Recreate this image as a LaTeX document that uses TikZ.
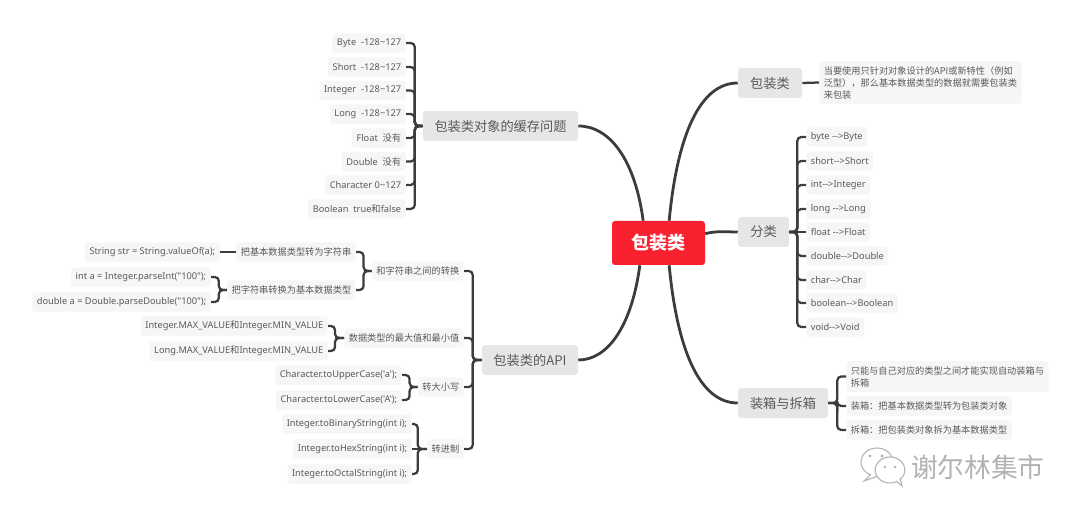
\documentclass[tikz,border=0pt]{standalone}
\usepackage{fontspec}
\setmainfont[Ligatures=TeXOff]{Noto Sans}
\newfontfamily\cjk{Noto Sans CJK SC}
\usepackage{xcolor}
\usepackage{tikz}
\usetikzlibrary{positioning}
\definecolor{rootred}{HTML}{F92130}
\definecolor{topicgray}{HTML}{E6E6E6}
\definecolor{leafgray}{HTML}{F6F6F6}
\definecolor{inkgray}{HTML}{5A5A5A}
\definecolor{linegray}{HTML}{3C3C3C}

\begin{document}
\begin{tikzpicture}[
  x=0.75pt, y=-0.75pt,
  % Node styles
  rootbox/.style={fill=rootred, rounded corners=2.2pt, minimum width=69.75pt, minimum height=33pt,
                  inner sep=0pt, text=white, font=\cjk\fontsize{13.5}{15}\selectfont\bfseries},
  topicbox/.style={fill=topicgray, rounded corners=2.2pt, minimum height=22.5pt, inner sep=0pt,
                   text=inkgray, font=\cjk\fontsize{9.9}{12}\selectfont},
  leafbox/.style={fill=leafgray, rounded corners=2.2pt, minimum height=14.6pt, inner xsep=3.4pt, inner ysep=0pt,
                  text=inkgray, font=\fontsize{6.95}{9}\selectfont},
  cjkbox/.style={leafbox, font=\cjk\fontsize{6.9}{9}\selectfont},
  % Line styles
  branch/.style={draw=linegray, line width=2.1pt},
  bracket/.style={draw=linegray, line width=1.7pt, rounded corners=3pt},
  bubble/.style={draw=gray!60, line width=0.8pt, fill=white},
  eye/.style={fill=gray!60},
]

  \useasboundingbox (0,0) rectangle (1080,516);

  % ── Root ──
  \node[rootbox] (root) at (658.5,243) {包装类};

  % ── Right topics ──
  \node[topicbox, minimum width=48pt] (wrap) at (770,83) {包装类};
  \node[topicbox, minimum width=38.25pt] (kinds) at (763.5,232) {分类};
  \node[topicbox, minimum width=67.5pt] (boxing) at (783,403) {装箱与拆箱};

  % ── Left topics ──
  \node[topicbox, minimum width=116.25pt] (cache) at (500.5,126) {包装类对象的缓存问题};
  \node[topicbox, minimum width=72pt] (api) at (530,360) {包装类的API};

  % ── Wrapper description ──
  \node[cjkbox, anchor=west, align=left, minimum width=151.5pt, minimum height=32pt] (desc) at (819,82.5)
    {当要使用只针对对象设计的API或新特性（例如\\泛型），那么基本数据类型的数据就需要包装类\\来包装};

  % ── Kinds: primitive to wrapper ──
  \node[leafbox, anchor=west] (kbyte) at (806,137) {byte -->Byte};
  \node[leafbox, anchor=west] (kshort) at (806,161) {short-->Short};
  \node[leafbox, anchor=west] (kint) at (806,185) {int-->Integer};
  \node[leafbox, anchor=west] (klong) at (806,209) {long -->Long};
  \node[leafbox, anchor=west] (kfloat) at (806,232) {float -->Float};
  \node[leafbox, anchor=west] (kdouble) at (806,256) {double-->Double};
  \node[leafbox, anchor=west] (kchar) at (806,280) {char-->Char};
  \node[leafbox, anchor=west] (kboolean) at (806,303) {boolean-->Boolean};
  \node[leafbox, anchor=west] (kvoid) at (806,327) {void-->Void};

  % ── Boxing notes ──
  \node[cjkbox, anchor=west, align=left, minimum width=150.75pt, minimum height=23pt] (bonly) at (846,376.5)
    {只能与自己对应的类型之间才能实现自动装箱与\\拆箱};
  \node[cjkbox, anchor=west] (bbox) at (846,406) {装箱：把基本数据类型转为包装类对象};
  \node[cjkbox, anchor=west] (bunbox) at (846,430) {拆箱：把包装类对象拆为基本数据类型};

  % ── Cache leaves ──
  \node[leafbox, anchor=east] (cbyte) at (406,43) {Byte\ \ -128\textasciitilde127};
  \node[leafbox, anchor=east] (cshort) at (406,67) {Short\ \ -128\textasciitilde127};
  \node[leafbox, anchor=east] (cinteger) at (406,90.5) {Integer\ \ -128\textasciitilde127};
  \node[leafbox, anchor=east] (clong) at (406,114) {Long\ \ -128\textasciitilde127};
  \node[leafbox, anchor=east] (cfloat) at (406,138) {Float\ \ {\cjk 没有}};
  \node[leafbox, anchor=east] (cdouble) at (406,161.5) {Double\ \ {\cjk 没有}};
  \node[leafbox, anchor=east] (cchar) at (406,185) {Character 0\textasciitilde127};
  \node[leafbox, anchor=east] (cboolean) at (406,209) {Boolean\ \ true{\cjk 和}false};

  % ── API groups ──
  \node[cjkbox, anchor=east] (astring) at (464,271) {和字符串之间的转换};
  \node[cjkbox, anchor=east] (arange) at (464,338) {数据类型的最大值和最小值};
  \node[cjkbox, anchor=east] (acase) at (464,387) {转大小写};
  \node[cjkbox, anchor=east] (aradix) at (464,449) {转进制};

  % ── String conversion ──
  \node[cjkbox, anchor=east] (tostr) at (356,252) {把基本数据类型转为字符串};
  \node[cjkbox, anchor=east] (fromstr) at (356,290) {把字符串转换为基本数据类型};
  \node[leafbox, anchor=east] (valueof) at (220,252) {String str = String.valueOf(a);};
  \node[leafbox, anchor=east] (parseint) at (211,277) {int a = Integer.parseInt("100");};
  \node[leafbox, anchor=east] (parsedouble) at (211,302) {double a = Double.parseDouble("100");};

  % ── Range, case, radix ──
  \node[leafbox, anchor=east] (intrange) at (328,326) {Integer.MAX\_VALUE{\cjk 和}Integer.MIN\_VALUE};
  \node[leafbox, anchor=east] (longrange) at (328,351) {Long.MAX\_VALUE{\cjk 和}Integer.MIN\_VALUE};
  \node[leafbox, anchor=east] (upper) at (402,375) {Character.toUpperCase('a');};
  \node[leafbox, anchor=east] (lower) at (402,400) {Character.toLowerCase('A');};
  \node[leafbox, anchor=east] (binary) at (412,424) {Integer.toBinaryString(int i);};
  \node[leafbox, anchor=east] (hex) at (412,449) {Integer.toHexString(int i);};
  \node[leafbox, anchor=east] (octal) at (412,474) {Integer.toOctalString(int i);};

  % ── Arrows: root to topics ──
  \draw[branch] ([xshift=8pt]root.north) .. controls +(8,-85) and +(-38,0) .. (wrap.west);
  \draw[branch] ([yshift=7pt]root.east) .. controls +(12,-3) and +(-12,0) .. (kinds.west);
  \draw[branch] ([xshift=8pt]root.south) .. controls +(8,85) and +(-38,0) .. (boxing.west);
  \draw[branch] ([xshift=-11.5pt]root.north) .. controls +(-8,-60) and +(32,0) .. (cache.east);
  \draw[branch] ([xshift=-14pt]root.south) .. controls +(-8,60) and +(30,0) .. (api.east);

  % ── Arrows: wrapper and kinds ──
  \draw[bracket] (wrap.east) -- (desc.west);
  \draw[bracket] (kinds.east) -- ++(8,0) |- (kbyte.west);
  \draw[bracket] (kinds.east) -- ++(8,0) |- (kshort.west);
  \draw[bracket] (kinds.east) -- ++(8,0) |- (kint.west);
  \draw[bracket] (kinds.east) -- ++(8,0) |- (klong.west);
  \draw[bracket] (kinds.east) -- (kfloat.west);
  \draw[bracket] (kinds.east) -- ++(8,0) |- (kdouble.west);
  \draw[bracket] (kinds.east) -- ++(8,0) |- (kchar.west);
  \draw[bracket] (kinds.east) -- ++(8,0) |- (kboolean.west);
  \draw[bracket] (kinds.east) -- ++(8,0) |- (kvoid.west);

  % ── Arrows: boxing ──
  \draw[bracket] (boxing.east) -- ++(9,0) |- (bonly.west);
  \draw[bracket] (boxing.east) -- ++(9,0) |- (bbox.west);
  \draw[bracket] (boxing.east) -- ++(9,0) |- (bunbox.west);

  % ── Arrows: cache ──
  \draw[bracket] (cache.west) -- ++(-8,0) |- (cbyte.east);
  \draw[bracket] (cache.west) -- ++(-8,0) |- (cshort.east);
  \draw[bracket] (cache.west) -- ++(-8,0) |- (cinteger.east);
  \draw[bracket] (cache.west) -- ++(-8,0) |- (clong.east);
  \draw[bracket] (cache.west) -- ++(-8,0) |- (cfloat.east);
  \draw[bracket] (cache.west) -- ++(-8,0) |- (cdouble.east);
  \draw[bracket] (cache.west) -- ++(-8,0) |- (cchar.east);
  \draw[bracket] (cache.west) -- ++(-8,0) |- (cboolean.east);

  % ── Arrows: API ──
  \draw[bracket] (api.west) -- ++(-9,0) |- (astring.east);
  \draw[bracket] (api.west) -- ++(-9,0) |- (arange.east);
  \draw[bracket] (api.west) -- ++(-9,0) |- (acase.east);
  \draw[bracket] (api.west) -- ++(-9,0) |- (aradix.east);

  \draw[bracket] (astring.west) -- ++(-8,0) |- (tostr.east);
  \draw[bracket] (astring.west) -- ++(-8,0) |- (fromstr.east);
  \draw[bracket] (tostr.west) -- (valueof.east);
  \draw[bracket] (fromstr.west) -- ++(-8,0) |- (parseint.east);
  \draw[bracket] (fromstr.west) -- ++(-8,0) |- (parsedouble.east);

  \draw[bracket] (arange.west) -- ++(-9,0) |- (intrange.east);
  \draw[bracket] (arange.west) -- ++(-9,0) |- (longrange.east);
  \draw[bracket] (acase.west) -- ++(-8,0) |- (upper.east);
  \draw[bracket] (acase.west) -- ++(-8,0) |- (lower.east);
  \draw[bracket] (aradix.west) -- ++(-9,0) |- (binary.east);
  \draw[bracket] (aradix.west) -- (hex.east);
  \draw[bracket] (aradix.west) -- ++(-9,0) |- (octal.east);

  % ── Watermark ──
  \draw[bubble] (877,462) ellipse (16 and 14);
  \draw[bubble] (871,474) -- (864,481) -- (878,476);
  \draw[bubble] (890,470) ellipse (15 and 13);
  \draw[bubble] (896,481) -- (902,486) -- (900,478);
  \fill[eye] (870,456) circle (1.6);
  \fill[eye] (882,456) circle (1.6);
  \fill[eye] (885,467) circle (1.4);
  \fill[eye] (895,467) circle (1.4);
  \node[font=\cjk\fontsize{20}{22}\selectfont, text=gray!60, anchor=west, inner sep=0pt] (mark) at (911,467) {谢尔林集市};

\end{tikzpicture}
\end{document}
